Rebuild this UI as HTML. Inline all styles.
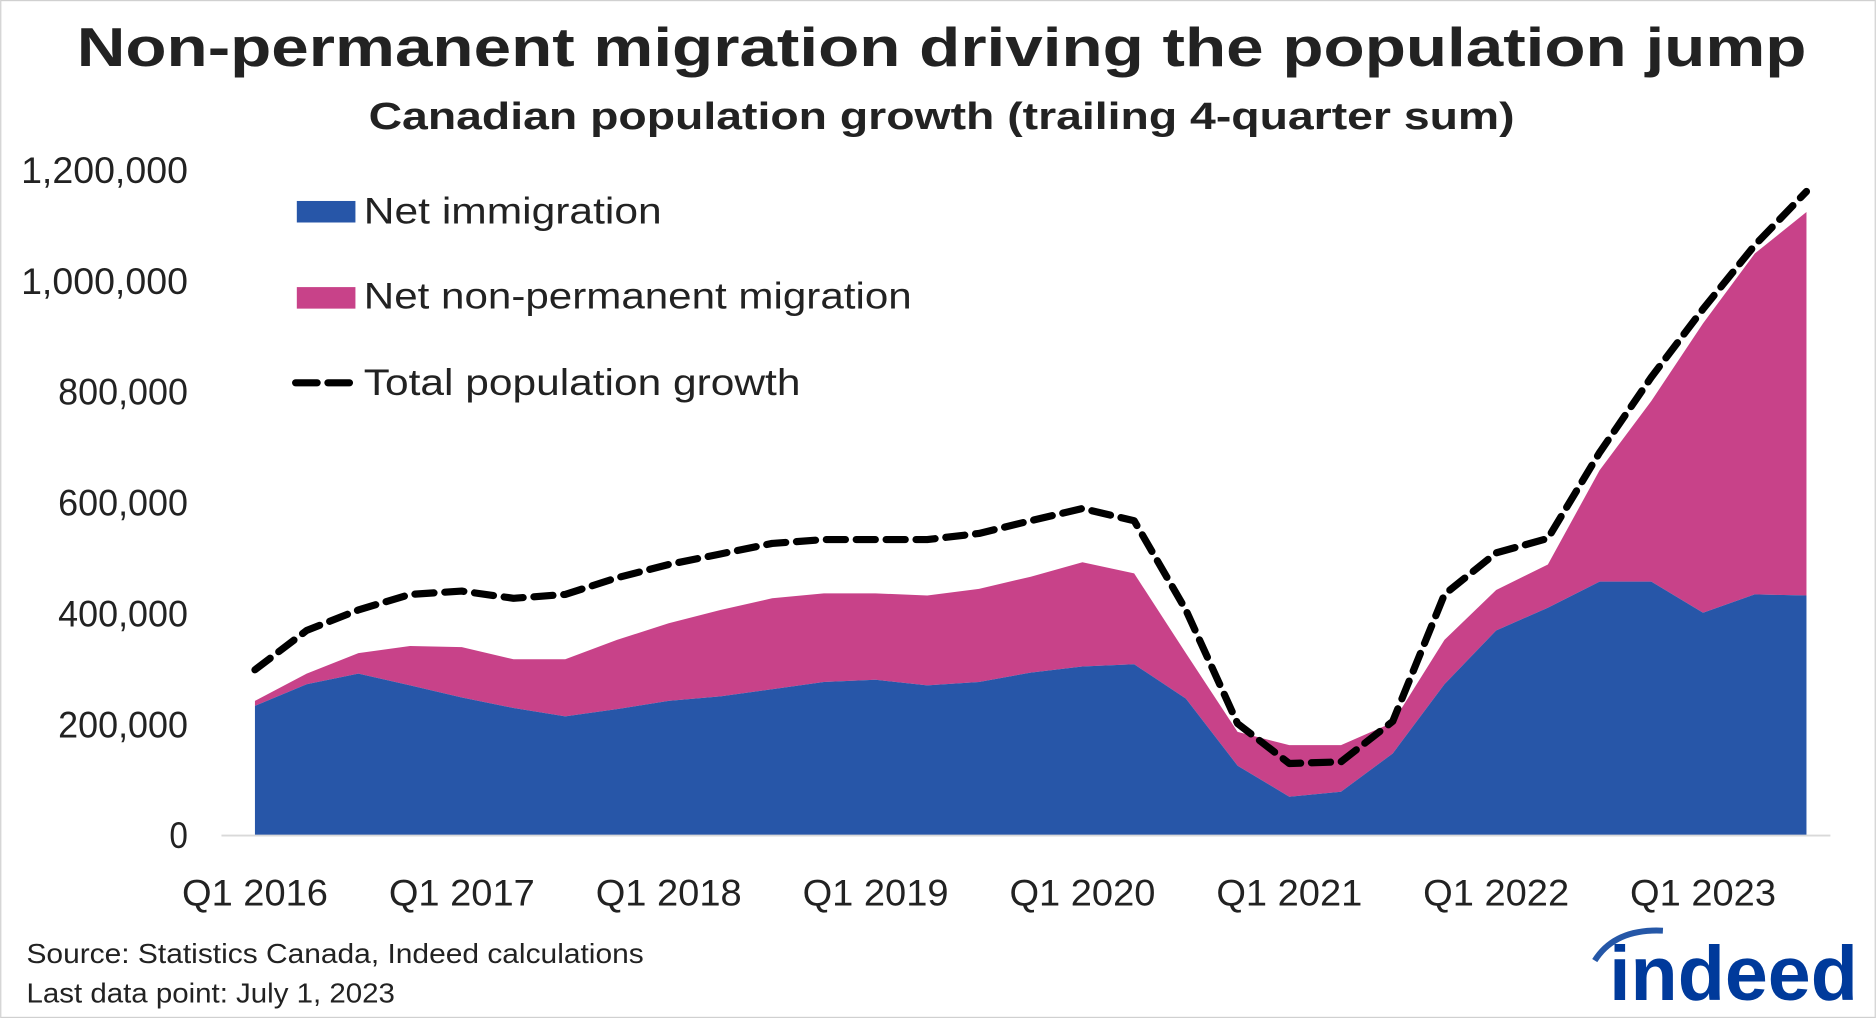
<!DOCTYPE html>
<html><head><meta charset="utf-8"><style>
html,body{margin:0;padding:0;background:#fff;}
svg{display:block;font-family:"Liberation Sans","DejaVu Sans",sans-serif;}
</style></head><body>
<svg id="chart" width="1876" height="1018" viewBox="0 0 1568 851" xmlns="http://www.w3.org/2000/svg">
<rect x="0.5" y="0.5" width="1567" height="850" fill="#fff" stroke="#d0d0d0" stroke-width="1"/>
<text x="787" y="55" text-anchor="middle" font-size="46" font-weight="bold" fill="#222" textLength="1446" lengthAdjust="spacingAndGlyphs">Non-permanent migration driving the population jump</text>
<text x="787" y="108" text-anchor="middle" font-size="32" font-weight="bold" fill="#222" textLength="958" lengthAdjust="spacingAndGlyphs">Canadian population growth (trailing 4-quarter sum)</text>
<g id="yticks"></g>
<g id="xticks"></g>
<g id="areas"></g>
<line x1="185" y1="698.5" x2="1530" y2="698.5" stroke="#d9d9d9" stroke-width="1.5"/>
<g>
<g><rect x="248" y="168" width="49" height="18" fill="#2756a8"/><text x="304" y="187" font-size="31" fill="#222" textLength="249" lengthAdjust="spacingAndGlyphs">Net immigration</text></g>
<g><rect x="248" y="240" width="49" height="18" fill="#c84289"/><text x="304" y="258" font-size="31" fill="#222" textLength="458" lengthAdjust="spacingAndGlyphs">Net non-permanent migration</text></g>
<g><line x1="247" y1="320" x2="297" y2="320" stroke="#000" stroke-width="6" stroke-dasharray="18,9" stroke-linecap="round"/><text x="304" y="330" font-size="31" fill="#222" textLength="365" lengthAdjust="spacingAndGlyphs">Total population growth</text></g>
</g>
<text x="22" y="805" font-size="23" fill="#222" textLength="516" lengthAdjust="spacingAndGlyphs">Source: Statistics Canada, Indeed calculations</text>
<text x="22" y="838" font-size="23" fill="#222" textLength="308" lengthAdjust="spacingAndGlyphs">Last data point: July 1, 2023</text>
<g>
<path d="M1333 803 Q1350 776 1390 778" fill="none" stroke="#2557a7" stroke-width="5"/>
<text x="1345" y="836" font-size="64" font-weight="bold" fill="#003a9b" textLength="208" lengthAdjust="spacingAndGlyphs">indeed</text>
</g>
</svg>
<script>
const quarters = ["Q1 2016","Q2 2016","Q3 2016","Q4 2016","Q1 2017","Q2 2017","Q3 2017","Q4 2017","Q1 2018","Q2 2018","Q3 2018","Q4 2018","Q1 2019","Q2 2019","Q3 2019","Q4 2019","Q1 2020","Q2 2020","Q3 2020","Q4 2020","Q1 2021","Q2 2021","Q3 2021","Q4 2021","Q1 2022","Q2 2022","Q3 2022","Q4 2022","Q1 2023","Q2 2023","Q3 2023"];
const immigration = [233000,272000,291000,270000,248000,229000,214000,227000,242000,250000,263000,276000,280000,270000,276000,293000,304000,308000,246000,125000,69000,78000,147000,272000,369000,410000,457000,457000,401000,434000,432000];
const nonPermanent = [9000,19000,37000,71000,91000,88000,103000,125000,140000,156000,164000,160000,156000,162000,168000,173000,188000,164000,82000,61000,93000,84000,56000,80000,73000,78000,201000,326000,522000,615000,692000];
const totalGrowth = [298000,369000,406000,434000,440000,427000,434000,464000,488000,507000,526000,533000,533000,533000,544000,567000,589000,567000,406000,201000,129000,132000,205000,434000,509000,535000,690000,826000,949000,1064000,1161000];
const yTicks = [0,200000,400000,600000,800000,1000000,1200000];
const xTickLabels = ["Q1 2016","Q1 2017","Q1 2018","Q1 2019","Q1 2020","Q1 2021","Q1 2022","Q1 2023"];

const NS="http://www.w3.org/2000/svg";
const X0=213, DX=(1510-213)/30, Y0=698, YPX=(698-142)/1200000;
function xs(i){return X0+i*DX;}
function ys(v){return Y0-v*YPX;}
function mk(tag,attrs,parent){const e=document.createElementNS(NS,tag);for(const k in attrs)e.setAttribute(k,attrs[k]);parent.appendChild(e);return e;}
const yg=document.getElementById('yticks'), xg=document.getElementById('xticks'), ag=document.getElementById('areas');
yTicks.forEach(v=>{
  const label=v.toLocaleString('en-US');
  const t=mk('text',{x:157,y:ys(v)+11,'text-anchor':'end','font-size':31,fill:'#222',textLength:label.length*15.5,lengthAdjust:'spacingAndGlyphs'},yg);
  
  
  t.textContent=label;
});
xTickLabels.forEach(lbl=>{
  const i=quarters.indexOf(lbl);
  const t=mk('text',{x:xs(i),y:757,'text-anchor':'middle','font-size':31,fill:'#222',textLength:122,lengthAdjust:'spacingAndGlyphs'},xg);
  
  
  t.textContent=lbl;
});
let bluePath='M'+xs(0)+','+ys(0);
immigration.forEach((v,i)=>{bluePath+=' L'+xs(i)+','+ys(v);});
bluePath+=' L'+xs(immigration.length-1)+','+ys(0)+' Z';
const stackTop=immigration.map((v,i)=>v+nonPermanent[i]);
let pinkPath='M'+stackTop.map((v,i)=>xs(i)+','+ys(v)).join(' L');
for(let i=immigration.length-1;i>=0;i--)pinkPath+=' L'+xs(i)+','+ys(immigration[i]);
pinkPath+=' Z';
const pa=mk('path',{d:pinkPath,fill:'#c84289'},ag);


const ba=mk('path',{d:bluePath,fill:'#2756a8'},ag);


const tl=mk('polyline',{points:totalGrowth.map((v,i)=>xs(i)+','+ys(v)).join(' '),fill:'none',stroke:'#000','stroke-width':6,'stroke-dasharray':'16,9','stroke-linecap':'round','stroke-linejoin':'round'},ag);


</script>
</body></html>
